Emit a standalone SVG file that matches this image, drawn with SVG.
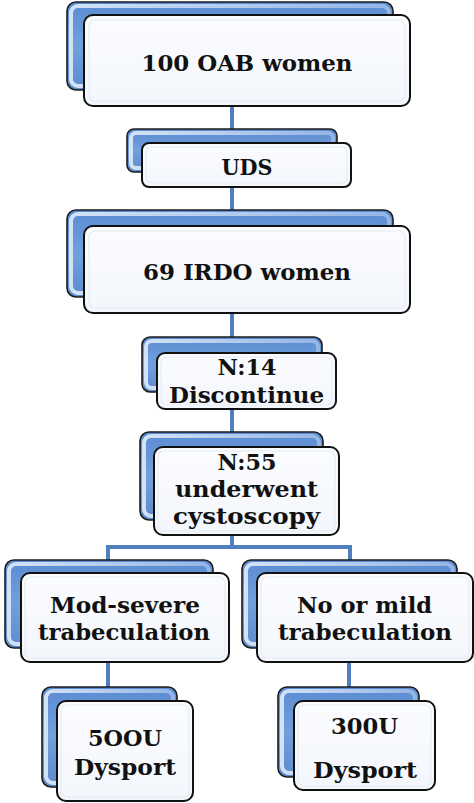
<svg xmlns="http://www.w3.org/2000/svg" width="474" height="803" viewBox="0 0 474 803">
<defs>
<linearGradient id="bg" x1="0" y1="0" x2="0" y2="1">
<stop offset="0" stop-color="#5b8bd2"/>
<stop offset="0.5" stop-color="#72a0dc"/>
<stop offset="1" stop-color="#5d8acb"/>
</linearGradient>
<linearGradient id="bevel" x1="0" y1="0" x2="1" y2="0">
<stop offset="0" stop-color="#d2e2f7"/>
<stop offset="1" stop-color="#95b5e5"/>
</linearGradient>
<linearGradient id="fg" x1="0" y1="0" x2="0" y2="1">
<stop offset="0" stop-color="#fbfcfe"/>
<stop offset="1" stop-color="#f3f6fb"/>
</linearGradient>
</defs>
<style>
.back{fill:url(#bg);stroke:#1c1c1c;stroke-width:1.6}
.bev{fill:none;stroke:url(#bevel);stroke-width:4}
.front{fill:url(#fg);stroke:#111;stroke-width:2}
.inner{fill:none;stroke:#e6ecf5;stroke-width:1.2}
.conn{stroke:#4f7fc0;stroke-width:4;fill:none}
text{font-family:"DejaVu Serif","Liberation Serif",serif;font-weight:bold;font-size:22.5px;fill:#111;text-anchor:middle}
</style>
<g id="connectors">
<line class="conn" x1="232" y1="100" x2="232" y2="132"/>
<line class="conn" x1="232" y1="180" x2="232" y2="213"/>
<line class="conn" x1="232" y1="305" x2="232" y2="340"/>
<line class="conn" x1="232" y1="400" x2="232" y2="435"/>
<polyline class="conn" points="232,530 232,547 108,547 108,562"/>
<polyline class="conn" points="232,547 350,547 350,562"/>
<line class="conn" x1="108" y1="655" x2="108" y2="690"/>
<line class="conn" x1="349" y1="655" x2="349" y2="690"/>
</g>
<g id="n1">
<rect class="back" x="67" y="2" width="326" height="88" rx="9"/>
<rect class="bev" x="71" y="6" width="318" height="80" rx="7"/>
<rect class="front" x="84" y="15" width="326" height="91" rx="9"/>
<rect class="inner" x="89" y="20" width="316" height="81" rx="6"/>
<text x="247" y="71" font-size="27" textLength="211" lengthAdjust="spacingAndGlyphs">100 OAB women</text>
</g>
<g id="n2">
<rect class="back" x="127" y="129" width="210" height="43" rx="7"/>
<rect class="bev" x="131" y="133" width="202" height="35" rx="5"/>
<rect class="front" x="142" y="143" width="209" height="44" rx="7"/>
<rect class="inner" x="146" y="147" width="201" height="36" rx="5"/>
<text x="247" y="175" font-size="27" textLength="51" lengthAdjust="spacingAndGlyphs">UDS</text>
</g>
<g id="n3">
<rect class="back" x="67" y="210" width="326" height="87" rx="9"/>
<rect class="bev" x="71" y="214" width="318" height="79" rx="7"/>
<rect class="front" x="84" y="226" width="326" height="87" rx="9"/>
<rect class="inner" x="89" y="231" width="316" height="77" rx="6"/>
<text x="247" y="280" font-size="26" textLength="208" lengthAdjust="spacingAndGlyphs">69 IRDO women</text>
</g>
<g id="n4">
<rect class="back" x="142" y="337" width="180" height="55" rx="8"/>
<rect class="bev" x="146" y="341" width="172" height="47" rx="6"/>
<rect class="front" x="157" y="353" width="179" height="56" rx="8"/>
<rect class="inner" x="161" y="357" width="171" height="48" rx="6"/>
<text x="247" y="375" textLength="59" lengthAdjust="spacingAndGlyphs">N:14</text>
<text x="246.5" y="403" textLength="155" lengthAdjust="spacingAndGlyphs">Discontinue</text>
</g>
<g id="n5">
<rect class="back" x="140" y="432" width="183" height="88" rx="9"/>
<rect class="bev" x="144" y="436" width="175" height="80" rx="7"/>
<rect class="front" x="154" y="447" width="185" height="88" rx="9"/>
<rect class="inner" x="158" y="451" width="177" height="80" rx="6"/>
<text x="247" y="470" textLength="59" lengthAdjust="spacingAndGlyphs">N:55</text>
<text x="246.5" y="497" textLength="143" lengthAdjust="spacingAndGlyphs">underwent</text>
<text x="246.5" y="524" textLength="147" lengthAdjust="spacingAndGlyphs">cystoscopy</text>
</g>
<g id="n6">
<rect class="back" x="5" y="560" width="208" height="88" rx="9"/>
<rect class="bev" x="9" y="564" width="200" height="80" rx="7"/>
<rect class="front" x="21" y="573" width="208" height="89" rx="9"/>
<rect class="inner" x="25" y="577" width="200" height="81" rx="6"/>
<text x="125" y="613" textLength="150" lengthAdjust="spacingAndGlyphs">Mod-severe</text>
<text x="124" y="640" textLength="172" lengthAdjust="spacingAndGlyphs">trabeculation</text>
</g>
<g id="n7">
<rect class="back" x="242" y="560" width="215" height="88" rx="9"/>
<rect class="bev" x="246" y="564" width="207" height="80" rx="7"/>
<rect class="front" x="257" y="573" width="216" height="89" rx="9"/>
<rect class="inner" x="261" y="577" width="208" height="81" rx="6"/>
<text x="364.5" y="613" textLength="135" lengthAdjust="spacingAndGlyphs">No or mild</text>
<text x="365" y="640" textLength="174" lengthAdjust="spacingAndGlyphs">trabeculation</text>
</g>
<g id="n8">
<rect class="back" x="42" y="687" width="135" height="100" rx="9"/>
<rect class="bev" x="46" y="691" width="127" height="92" rx="7"/>
<rect class="front" x="57" y="701" width="136" height="100" rx="9"/>
<rect class="inner" x="61" y="705" width="128" height="92" rx="6"/>
<text x="125" y="746" font-size="25" textLength="74" lengthAdjust="spacingAndGlyphs">5OOU</text>
<text x="125" y="775" font-size="25" textLength="102" lengthAdjust="spacingAndGlyphs">Dysport</text>
</g>
<g id="n9">
<rect class="back" x="278" y="687" width="141" height="90" rx="9"/>
<rect class="bev" x="282" y="691" width="133" height="82" rx="7"/>
<rect class="front" x="294" y="701" width="141" height="89" rx="9"/>
<rect class="inner" x="298" y="705" width="133" height="81" rx="6"/>
<text x="364.5" y="734" font-size="25" textLength="67" lengthAdjust="spacingAndGlyphs">300U</text>
<text x="365" y="778" font-size="25" textLength="104" lengthAdjust="spacingAndGlyphs">Dysport</text>
</g>
</svg>
